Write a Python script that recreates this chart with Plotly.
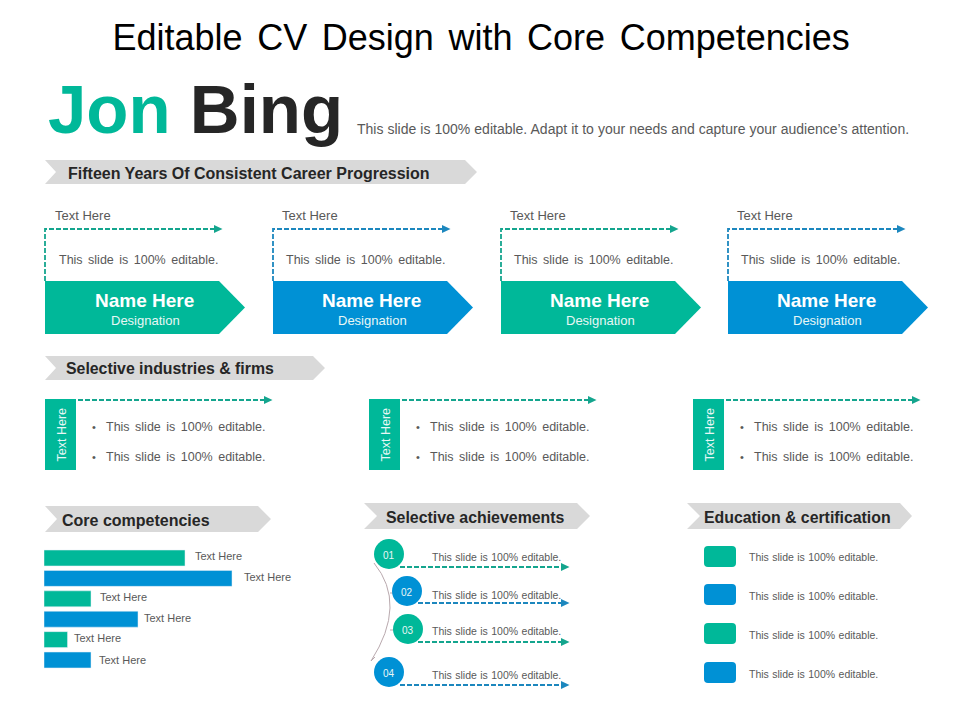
import plotly.graph_objects as go

GREEN = "#00B899"
BLUE = "#0091D5"
DGREEN = "#14A58E"
DBLUE = "#1C87BE"
GRAY = "#D9D9D9"
DARK = "#262626"
TXT = "#595959"
FONT = "Liberation Sans"

title = "Editable CV Design with Core Competencies"
first_name = "Jon"
last_name = "Bing"
tagline = "This slide is 100% editable. Adapt it to your needs and capture your audience\u2019s attention."
editable = "This slide is 100% editable."
text_here = "Text Here"

section_titles = ["Fifteen Years Of Consistent Career Progression", "Selective industries & firms",
                  "Core competencies", "Selective achievements", "Education & certification"]
person_names = ["Name Here"] * 4
person_roles = ["Designation"] * 4
achievement_ids = ["01", "02", "03", "04"]

competency_labels = ["Skill 1", "Skill 2", "Skill 3", "Skill 4", "Skill 5", "Skill 6"]
competency_values = [30, 40, 10, 20, 5, 10]
competency_gaps = [8, 10, 7, 4, 4, 6]
competency_lifts = [2, 1, 2, 1, 2, 0]

shapes, anns = [], []

def poly(pts, color):
    d = "M" + " L".join(f"{x},{y}" for x, y in pts) + " Z"
    shapes.append(dict(type="path", path=d, fillcolor=color, line_width=0, layer="below"))

def banner(x0, x1, y0, y1, notch, head, text, tx, size=16, dy=1):
    ym = (y0 + y1) / 2
    poly([(x0, y0), (x1 - head, y0), (x1, ym), (x1 - head, y1), (x0, y1), (x0 + notch, ym)], GRAY)
    label(tx, ym + dy, text, size, DARK, bold=True)

def label(x, y, text, size, color, anchor="left", bold=False, angle=0):
    if anchor == "left":
        x -= 2
    anns.append(dict(x=x, y=y, xref="x", yref="y", text=f"<b>{text}</b>" if bold else text,
                     showarrow=False, xanchor=anchor, yanchor="middle", textangle=angle, align=anchor,
                     font=dict(family=FONT, size=size, color=color)))

def dashed(pts, color):
    d = "M" + " L".join(f"{x},{y}" for x, y in pts)
    shapes.append(dict(type="path", path=d, line=dict(color=color, width=1.8, dash="5px,2px"), layer="below"))
    x, y = pts[-1]
    poly([(x, y - 4), (x + 8.5, y), (x, y + 4)], color)

# Header
label(481, 37, title, 36, "#000000", anchor="center")
label(47.5, 109, f'<span style="color:{GREEN}"><b>{first_name}</b></span> <b>{last_name}</b>', 69, DARK)
label(357, 129, tagline, 14, TXT)

# Career progression
banner(45, 477, 160, 184, 11, 12, section_titles[0], 68)
for i, x in enumerate([45, 273, 501, 728]):
    c, dc = (GREEN, DGREEN) if i % 2 == 0 else (BLUE, DBLUE)
    poly([(x, 281), (x + 174, 281), (x + 200, 307.5), (x + 174, 334), (x, 334)], c)
    dashed([(x, 281), (x, 229), (x + 169, 229)], dc)
    off = 0 if i == 0 else -1
    label(x + 10 + off, 215, text_here, 13, TXT)
    label(x + 14 + off, 259.5, editable, 12.5, TXT)
    label(x + 100 - 0.5 + off, 300, person_names[i], 19, "#FFFFFF", anchor="center", bold=True)
    label(x + 100 + off, 320.5, person_roles[i], 13, "#E8F7F5", anchor="center")

# Industries
banner(45, 325, 356, 380, 11, 12, section_titles[1], 66, size=15.85, dy=0)
for x in [45, 369, 693]:
    shapes.append(dict(type="rect", x0=x, x1=x + 31, y0=399, y1=470, fillcolor=GREEN, line_width=0, layer="below"))
    dashed([(x + 33, 400), (x + 219, 400)], DGREEN)
    label(x + 16.5, 435, text_here, 12.5, "#E8F7F5", anchor="center", angle=-90)
    for y in [427, 457]:
        label(x + 47, y, "\u2022", 11, TXT)
        label(x + 61, y, editable, 12.5, TXT)

# Core competencies bars
banner(45, 271, 506, 532, 12, 13, section_titles[2], 62)
for lab, val, gap, lift in zip(competency_labels, competency_values, competency_gaps, competency_lifts):
    anns.append(dict(x=val, y=lab, xref="x2", yref="y2", text=text_here, showarrow=False,
                     xanchor="left", yanchor="middle", xshift=gap, yshift=lift,
                     font=dict(family=FONT, size=11, color=TXT)))

# Achievements
banner(364, 590, 503, 529, 13, 13, section_titles[3], 386, size=15.9)
shapes.append(dict(type="path", path="M374,563 Q407.5,604 371,661 L375,657", line=dict(color="#B9A9AE", width=1), layer="below"))
for (x0, y0, x1, y1) in [(390, 593, 394, 593), (390, 630, 396, 630)]:
    shapes.append(dict(type="line", x0=x0, y0=y0, x1=x1, y1=y1, line=dict(color="#B9A9AE", width=1), layer="below"))
for i, (cx, cy, ly, ty, lx) in enumerate([(389, 554, 567, 557, 400), (407, 591, 603, 595, 418),
                                          (408, 629, 642, 631, 418), (389, 672, 685, 675, 400)]):
    c, dc = (GREEN, DGREEN) if i % 2 == 0 else (BLUE, DBLUE)
    dashed([(lx, ly), (561, ly)], dc)
    shapes.append(dict(type="circle", x0=cx - 15, x1=cx + 15, y0=cy - 15, y1=cy + 15, fillcolor=c, line_width=0))
    label(cx, cy + 1, achievement_ids[i], 10, "#E8F7F5", anchor="center")
    label(432, ty, editable, 10.5, TXT)

# Education
banner(687, 912, 503, 529, 13, 12, section_titles[4], 704, size=15.85)
for i, (y0, ty) in enumerate([(546, 557), (584, 596), (623, 635), (662, 674)]):
    c = GREEN if i % 2 == 0 else BLUE
    x0, x1, y1, r = 704, 736, y0 + 21, 4
    d = (f"M{x0+r},{y0} L{x1-r},{y0} Q{x1},{y0} {x1},{y0+r} L{x1},{y1-r} Q{x1},{y1} {x1-r},{y1} "
         f"L{x0+r},{y1} Q{x0},{y1} {x0},{y1-r} L{x0},{y0+r} Q{x0},{y0} {x0+r},{y0} Z")
    shapes.append(dict(type="path", path=d, fillcolor=c, line_width=0, layer="below"))
    label(749, ty, editable, 10.5, TXT)

bar_colors = [GREEN if i % 2 == 0 else BLUE for i in range(len(competency_values))]
fig = go.Figure()
fig.add_trace(go.Scatter(x=[0, 960], y=[0, 720], mode="markers", marker_opacity=0, hoverinfo="skip", showlegend=False))
fig.add_trace(go.Bar(x=competency_values, y=competency_labels, orientation="h", marker_color=bar_colors,
                     width=0.78, xaxis="x2", yaxis="y2", showlegend=False))

fig.update_layout(
    width=960, height=720, margin=dict(l=0, r=0, t=0, b=0), paper_bgcolor="white", plot_bgcolor="rgba(0,0,0,0)",
    shapes=shapes, annotations=anns,
    xaxis=dict(range=[0, 960], visible=False, fixedrange=True, domain=[0, 1]),
    yaxis=dict(range=[720, 0], visible=False, fixedrange=True, domain=[0, 1]),
    xaxis2=dict(range=[0, 50], domain=[44 / 960, 279 / 960], visible=False, anchor="y2"),
    yaxis2=dict(domain=[1 - 670.2 / 720, 1 - 547.8 / 720], autorange="reversed", visible=False, anchor="x2",
                type="category", categoryorder="array", categoryarray=competency_labels),
)
post = """
document.body.style.margin = '0';
document.querySelectorAll('text.annotation-text').forEach(function (t) {
  var s = t.textContent;
  var size = parseFloat(t.style.fontSize);
  if (s === 'This slide is 100% editable.') { t.style.wordSpacing = (size > 12 ? 2 : 0.5) + 'px'; }
  if (s.indexOf('Editable CV') === 0) { t.style.wordSpacing = '4.6px'; }
  if (s.indexOf('This slide is 100% editable. Adapt') === 0) { t.style.wordSpacing = '0.15px'; }
});
"""
fig.write_html("out.html", post_script=post, config={"displayModeBar": False})
